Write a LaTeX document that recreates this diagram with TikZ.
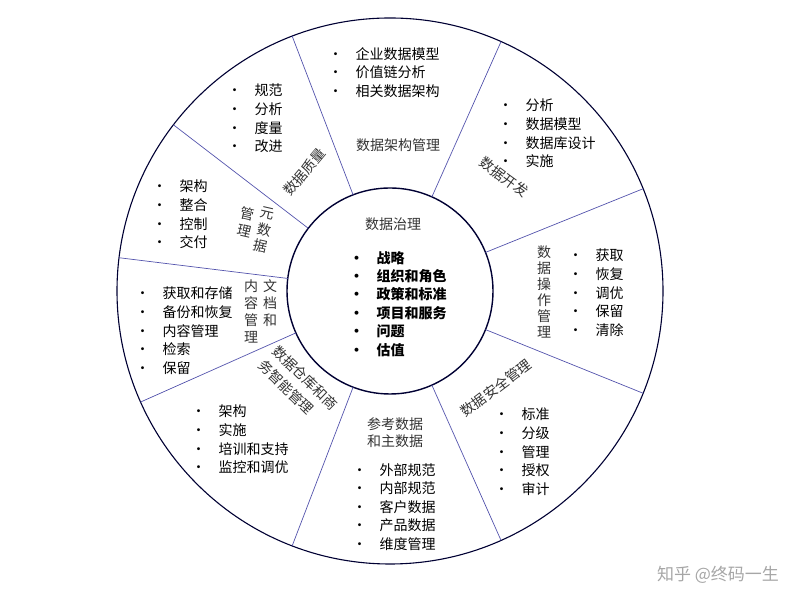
\documentclass[tikz,border=0pt]{standalone}
\usepackage{fontspec}
\setmainfont{Noto Sans CJK SC}
\usepackage{tikz}
\usetikzlibrary{positioning,calc}
\newcommand{\bu}{\makebox[27pt][l]{\textbullet}}

\begin{document}
\begin{tikzpicture}[x=1pt,y=1pt,
  lst/.style={anchor=north west, inner sep=0pt, align=left, font=\fontsize{14}{18.6}\selectfont},
  head/.style={inner sep=0pt, align=center, text=black!80, font=\fontsize{14}{17}\selectfont},
  spoke/.style={draw=blue!35!gray, line width=0.7pt}
]
\useasboundingbox (0,0) rectangle (801,607);

\coordinate (cen) at (390,316);
\draw[draw=blue!20!black, line width=1.1pt] (cen) circle (273);
\draw[draw=blue!20!black, line width=1.4pt] (cen) circle (103);
\foreach \a in {111,66,22,-22,-66,-111,-156,173,142.5}
  \draw[spoke] ($(cen)+(\a:103)$) -- ($(cen)+(\a:273)$);

% lists
\node[lst] (da)  at (328.5,560) {\bu 企业数据模型\\\bu 价值链分析\\\bu 相关数据架构};
\node[lst] (dq)  at (227.5,523) {\bu 规范\\\bu 分析\\\bu 度量\\\bu 改进};
\node[lst] (md)  at (152.5,427) {\bu 架构\\\bu 整合\\\bu 控制\\\bu 交付};
\node[lst] (doc) at (135.5,320) {\bu 获取和存储\\\bu 备份和恢复\\\bu 内容管理\\\bu 检索\\\bu 保留};
\node[lst] (dw)  at (191.5,202) {\bu 架构\\\bu 实施\\\bu 培训和支持\\\bu 监控和调优};
\node[lst] (ref) at (352.5,144) {\bu 外部规范\\\bu 内部规范\\\bu 客户数据\\\bu 产品数据\\\bu 维度管理};
\node[lst] (sec) at (494.5,199) {\bu 标准\\\bu 分级\\\bu 管理\\\bu 授权\\\bu 审计};
\node[lst] (ops) at (568.5,358) {\bu 获取\\\bu 恢复\\\bu 调优\\\bu 保留\\\bu 清除};
\node[lst] (dev) at (498.5,508) {\bu 分析\\\bu 数据模型\\\bu 数据库设计\\\bu 实施};
\node[lst, font=\fontsize{14}{18.4}\selectfont\bfseries] (gov) at (349.5,356)
  {\bu 战略\\\bu 组织和角色\\\bu 政策和标准\\\bu 项目和服务\\\bu 问题\\\bu 估值};

% headings
\node[head] (govh) at (393,383) {数据治理};
\node[head] (dah)  at (398,462) {数据架构管理};
\node[head, rotate=50] (dqh) at (304,435) {数据质量};
\node[head, rotate=-13] (mdh1) at (264,377) {元\\数\\据};
\node[head, rotate=-13] (mdh2) at (246,385) {管\\理};
\node[head] (doch1) at (270,304) {文\\档\\和};
\node[head] (doch2) at (251,296) {内\\容\\管\\理};
\node[head, rotate=-44, align=left, font=\fontsize{14}{20}\selectfont] (dwh) at (298,222) {数据仓库和商\\务智能管理};
\node[head, align=left] (refh) at (395,174) {参考数据\\和主数据};
\node[head, rotate=37] (sech) at (496,219) {数据安全管理};
\node[head, font=\fontsize{14}{16}\selectfont] (opsh) at (544,315) {数\\据\\操\\作\\管\\理};
\node[head, rotate=-36] (devh) at (504,430) {数据开发};

\node[text=black!35, font=\fontsize{17}{20}\selectfont] (wm) at (718,32) {知乎 @终码一生};
\end{tikzpicture}
\end{document}
